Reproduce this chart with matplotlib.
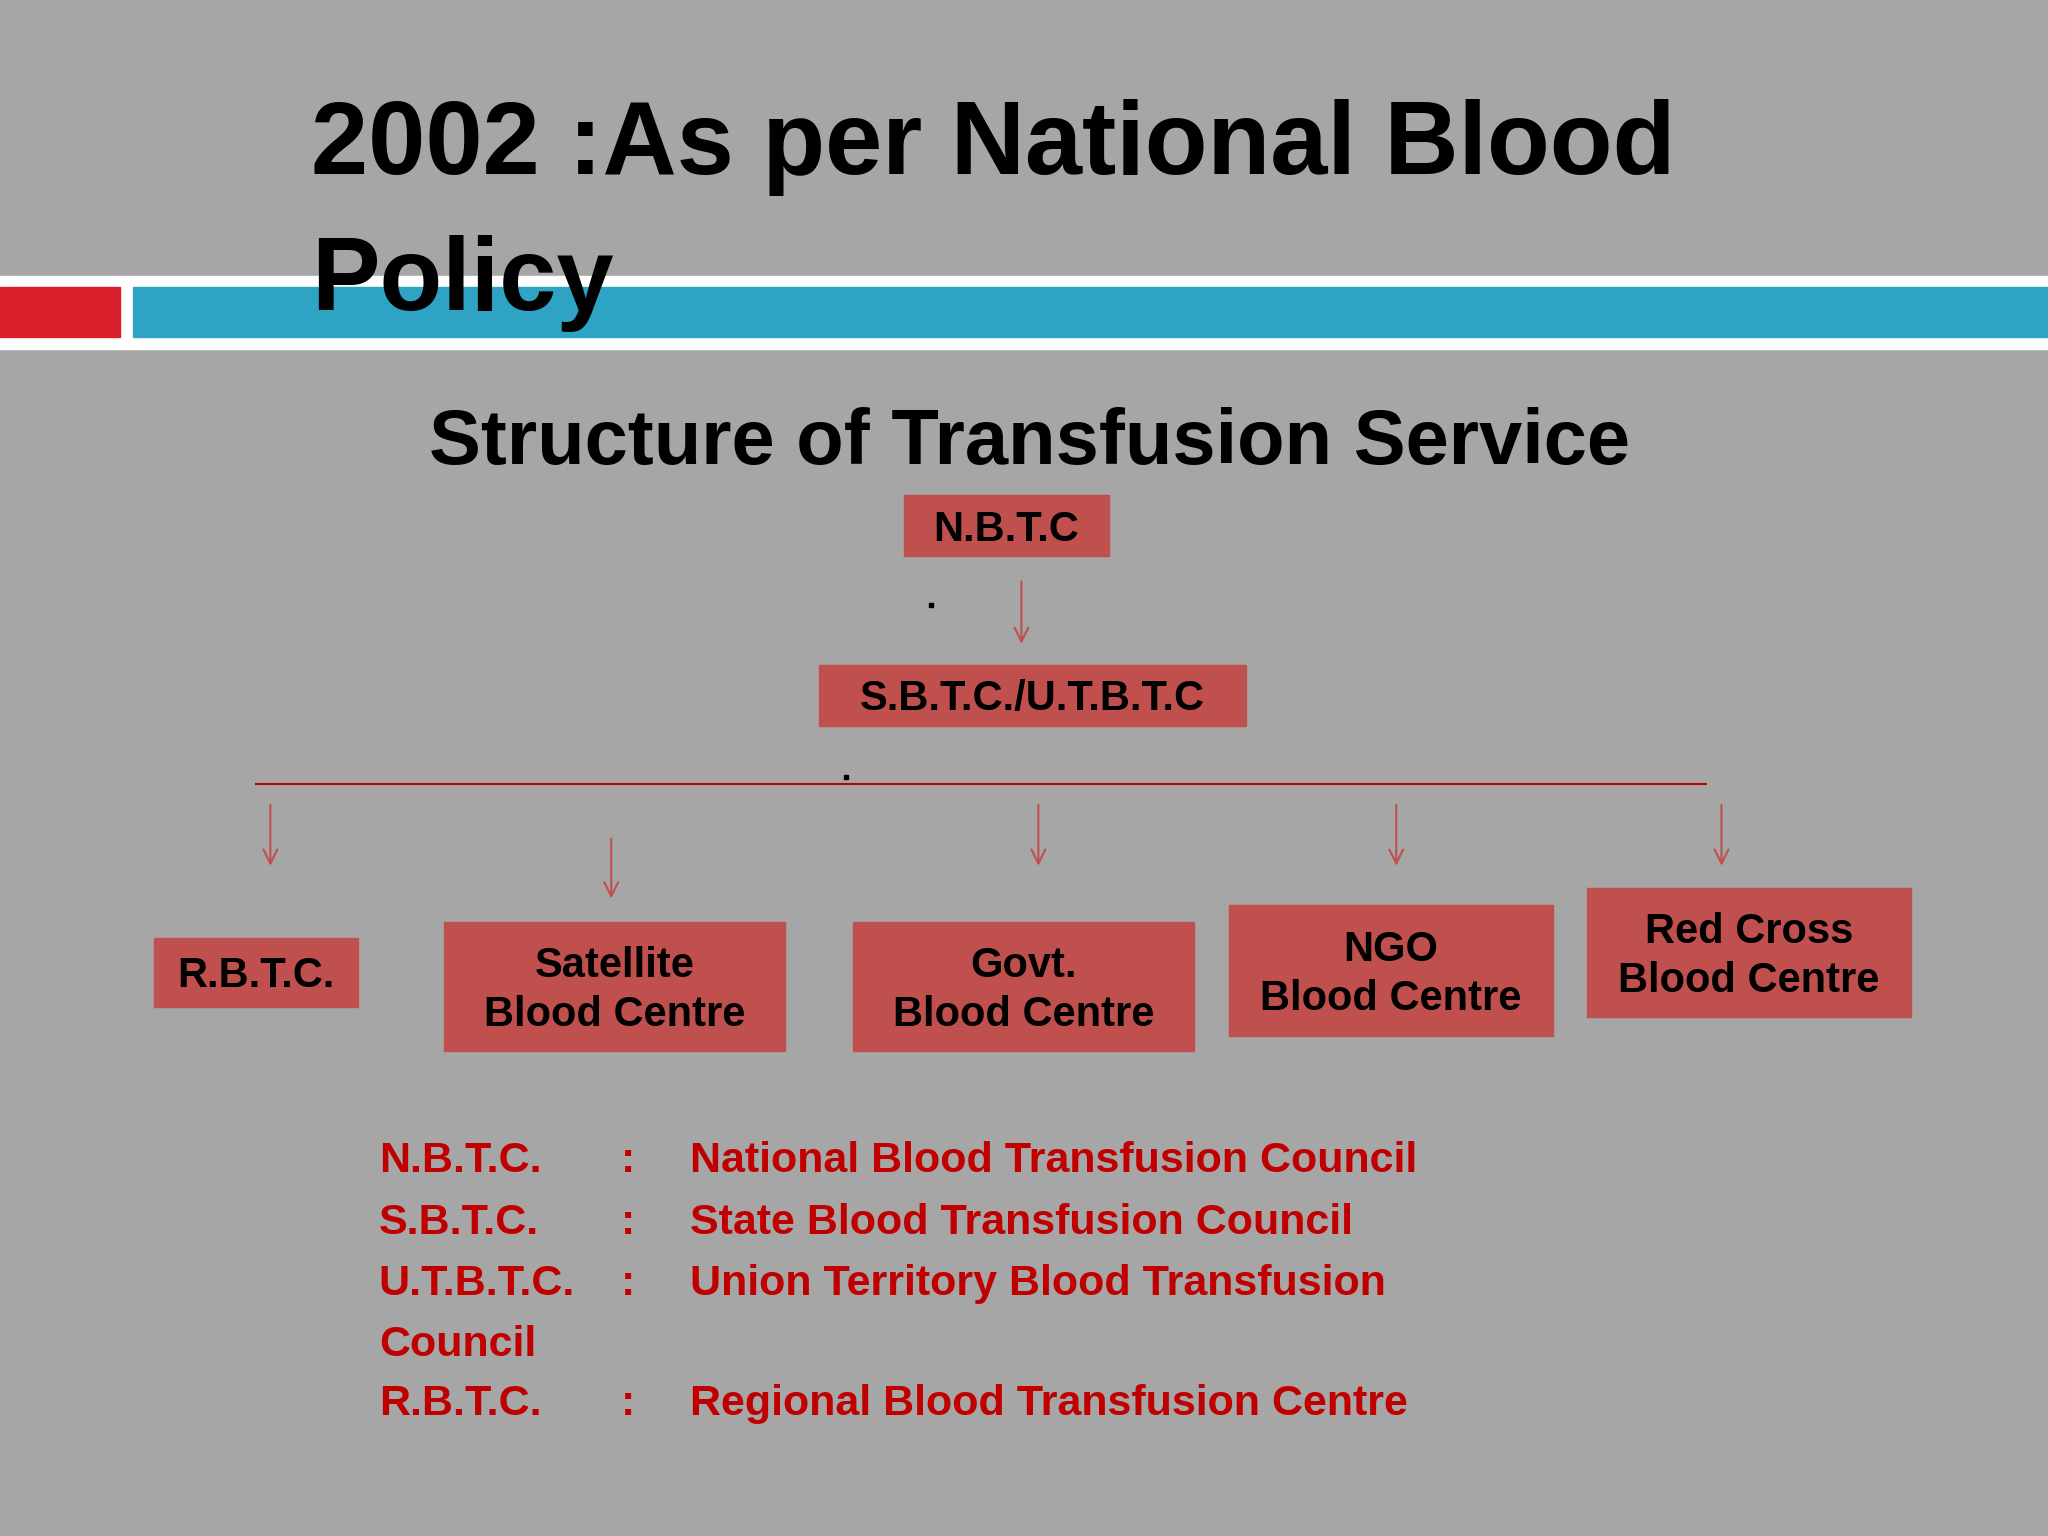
import matplotlib.pyplot as plt
from matplotlib.patches import Rectangle

title_lines = ["2002 :As per National Blood", "Policy"]
subtitle = "Structure of Transfusion Service"
top_label = "N.B.T.C"
mid_label = "S.B.T.C./U.T.B.T.C"
child_labels = ["R.B.T.C.", "Satellite\nBlood Centre", "Govt.\nBlood Centre",
                "NGO\nBlood Centre", "Red Cross\nBlood Centre"]
abbrevs = ["N.B.T.C.", "S.B.T.C.", "U.T.B.T.C.", "", "R.B.T.C."]
meanings = ["National Blood Transfusion Council", "State Blood Transfusion Council",
            "Union Territory Blood Transfusion", "", "Regional Blood Transfusion Centre"]
extra_line = "Council"

BG = "#a6a6a6"
BOX = "#c0504d"
RED = "#c00000"
FONT = "Liberation Sans"

fig = plt.figure(figsize=(20.48, 15.36), dpi=100, facecolor=BG)
ax = fig.add_axes([0, 0, 1, 1])
ax.set_facecolor(BG)
ax.set_xlim(0, 1568)
ax.set_ylim(1176, 0)
ax.axis("off")

# header bars
ax.add_patch(Rectangle((0, 211), 1568, 56, color="white", zorder=1))
ax.add_patch(Rectangle((0, 220), 92, 38, color="#d9202a", zorder=2))
ax.add_patch(Rectangle((102, 220), 1466, 38, color="#2ea3c4", zorder=2))

for line, y in zip(title_lines, [133, 237]):
    ax.text(238, y, line, fontsize=74, fontweight="bold", family=FONT,
            va="baseline", zorder=3)
ax.text(788, 355, subtitle, fontsize=56, fontweight="bold", family=FONT,
        ha="center", va="baseline")

def box(x, y, w, h, label, fs):
    ax.add_patch(Rectangle((x, y), w, h, color=BOX, zorder=2))
    ax.text(x + w / 2, y + h / 2 + 3, label, ha="center", va="center", fontsize=fs,
            family=FONT, fontweight="bold", linespacing=1.3, zorder=3)

box(692, 379, 157, 47, top_label, 30)
box(627, 509, 327, 47, mid_label, 30)

arrow = dict(arrowstyle="->", color=BOX, lw=1.5, mutation_scale=25)
ax.annotate("", xy=(782, 495), xytext=(782, 443), arrowprops=arrow)
ax.plot([196, 1306], [600, 600], color="#c00000", lw=1.5)
ax.plot([713], [463], "ks", ms=3)
ax.plot([648], [595], "ks", ms=3)

child_boxes = [(118, 718, 156, 53), (340, 706, 261, 99), (653, 706, 261, 99),
               (941, 693, 248, 100), (1215, 680, 248, 99)]
arrow_x = [207, 468, 795, 1069, 1318]
arrow_y = [(614, 665), (640, 690), (614, 665), (614, 665), (614, 665)]
for (x, y, w, h), lab, ax_x, (y0, y1) in zip(child_boxes, child_labels, arrow_x, arrow_y):
    box(x, y, w, h, lab, 30)
    ax.annotate("", xy=(ax_x, y1), xytext=(ax_x, y0), arrowprops=arrow)

ys = [889, 936, 983, 1030, 1075]
for a, m, y in zip(abbrevs, meanings, ys):
    if not a:
        continue
    ax.text(290, y, a, color=RED, fontsize=31, fontweight="bold", family=FONT, va="center")
    ax.text(475, y, ":", color=RED, fontsize=31, fontweight="bold", family=FONT, va="center")
    ax.text(528, y, m, color=RED, fontsize=31, fontweight="bold", family=FONT, va="center")
ax.text(290, ys[3], extra_line, color=RED, fontsize=31, fontweight="bold", family=FONT,
        va="center")

fig.savefig("out.png", dpi=100, facecolor=BG)
